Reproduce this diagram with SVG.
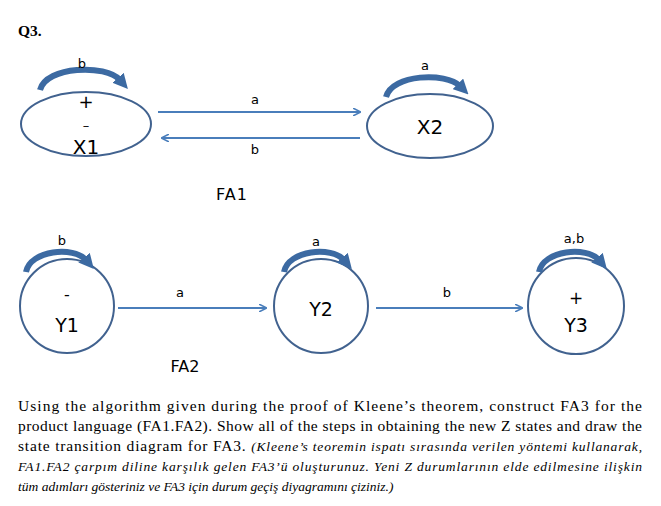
<svg xmlns="http://www.w3.org/2000/svg" width="661" height="506" viewBox="0 0 661 506">
<style>
.st{fill:none;stroke:#41628f;stroke-width:2}
.ln{fill:none;stroke:#4a7ebb;stroke-width:2.2}
.lp{fill:none;stroke:#3c6aa2;stroke-width:6}
.s{font-family:"DejaVu Sans",Verdana,sans-serif;fill:#000}
.t{font-family:"Liberation Serif","Times New Roman",serif;font-size:15.5px;fill:#000}
.i{font-style:italic;font-size:13.5px}
</style>
<defs>
<marker id="ar" viewBox="0 0 10 10" refX="9" refY="5" markerWidth="8" markerHeight="8" orient="auto" markerUnits="userSpaceOnUse"><path d="M0,0 L10,5 L0,10" fill="none" stroke="#4a7ebb" stroke-width="2"/></marker>
<marker id="lh" viewBox="0 0 10 10" refX="2" refY="5" markerWidth="15" markerHeight="15" orient="auto" markerUnits="userSpaceOnUse"><path d="M0,0 L10,5 L0,10 Z" fill="#3c6aa2"/></marker>
</defs>
<text x="18" y="36" class="t" font-weight="bold" font-size="16">Q3.</text>
<g id="X1"><ellipse cx="86" cy="124" rx="65" ry="32" class="st"/>
<text x="86" y="108" class="s" font-size="18" text-anchor="middle">+</text>
<text x="86" y="130" class="s" font-size="13" text-anchor="middle">–</text>
<text x="86" y="154" class="s" font-size="20" text-anchor="middle">X1</text></g>
<g id="X2"><ellipse cx="430" cy="126" rx="63" ry="32" class="st"/>
<text x="430" y="134" class="s" font-size="20" text-anchor="middle">X2</text></g>
<g id="Y1"><circle cx="67" cy="306" r="47" class="st"/>
<text x="67" y="300" class="s" font-size="16" text-anchor="middle">-</text>
<text x="67" y="332" class="s" font-size="19" text-anchor="middle">Y1</text></g>
<g id="Y2"><circle cx="321" cy="306" r="47" class="st"/>
<text x="321" y="316" class="s" font-size="19" text-anchor="middle">Y2</text></g>
<g id="Y3"><circle cx="576" cy="306" r="48" class="st"/>
<text x="576" y="304" class="s" font-size="17" text-anchor="middle">+</text>
<text x="576" y="332" class="s" font-size="19" text-anchor="middle">Y3</text></g>
<g id="connectors">
<path d="M158,112 L360,112" class="ln" marker-end="url(#ar)"/>
<path d="M360,138 L162,138" class="ln" marker-end="url(#ar)"/>
<path d="M118,308 L266,308" class="ln" marker-end="url(#ar)"/>
<path d="M376,308 L522,308" class="ln" marker-end="url(#ar)"/>
<path d="M40,90 C46,66 106,64 120,80" class="lp" marker-end="url(#lh)"/>
<path d="M386,97 C392,74 446,72 460,86" class="lp" marker-end="url(#lh)"/>
<path d="M26,272 C30,250 74,246 86,260" class="lp" marker-end="url(#lh)"/>
<path d="M284,272 C288,250 332,246 344,260" class="lp" marker-end="url(#lh)"/>
<path d="M539,272 C543,250 587,246 599,260" class="lp" marker-end="url(#lh)"/>
</g>
<g class="s" font-size="13" text-anchor="middle">
<text x="82" y="68">b</text><text x="425" y="70">a</text>
<text x="255" y="104">a</text><text x="255" y="154">b</text>
<text x="62" y="245">b</text><text x="316" y="246">a</text><text x="574" y="243">a,b</text>
<text x="180" y="297">a</text><text x="447" y="297">b</text>
</g>
<text x="232" y="200" class="s" font-size="16" text-anchor="middle" letter-spacing="1">FA1</text>
<text x="185" y="372" class="s" font-size="16" text-anchor="middle">FA2</text>
<text x="18" y="411" class="t" textLength="624" lengthAdjust="spacing">Using the algorithm given during the proof of Kleene’s theorem, construct FA3 for the</text>
<text x="18" y="431" class="t" textLength="624" lengthAdjust="spacing">product language (FA1.FA2). Show all of the steps in obtaining the new Z states and draw the</text>
<text x="18" y="451" class="t" textLength="624" lengthAdjust="spacing">state transition diagram for FA3. <tspan class="i">(Kleene’s teoremin ispatı sırasında verilen yöntemi kullanarak,</tspan></text>
<text x="18" y="471" class="t i" textLength="624" lengthAdjust="spacing">FA1.FA2 çarpım diline karşılık gelen FA3’ü oluşturunuz. Yeni Z durumlarının elde edilmesine ilişkin</text>
<text x="18" y="491" class="t i">tüm adımları gösteriniz ve FA3 için durum geçiş diyagramını çiziniz.)</text>
</svg>
